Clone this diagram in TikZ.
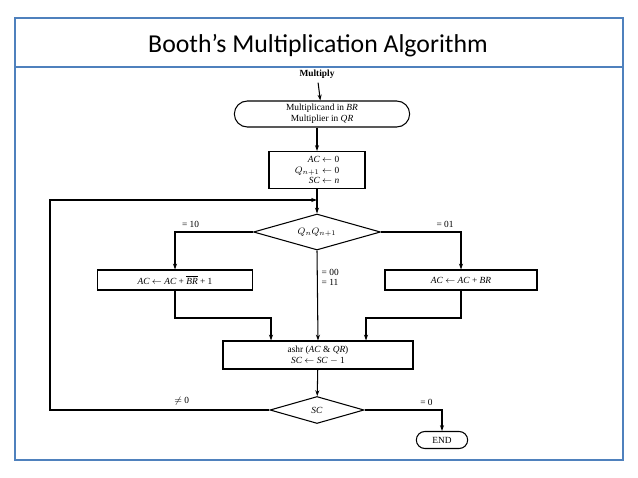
\documentclass[tikz,border=0pt]{standalone}
\usepackage{fontspec}
\setmainfont{Liberation Serif}
\newfontfamily\titlefont{Carlito}
\usetikzlibrary{shapes.geometric,shapes.misc,arrows.meta}
\definecolor{slideblue}{RGB}{79,129,189}
\begin{document}
\begin{tikzpicture}[x=0.03cm,y=-0.03cm,>={Stealth[length=5pt,width=3.5pt]},line width=0.9pt,
  font=\fontsize{8}{9}\selectfont]
\tikzset{
  box/.style={draw,rectangle,inner sep=2pt},
  term/.style={draw,rounded rectangle,inner sep=2pt},
  test/.style={draw,diamond,aspect=3.5,inner sep=1pt}
}
\useasboundingbox (0,0) rectangle (638,478);
\draw[slideblue,line width=1.2pt] (15,18) rectangle (623,460);
\draw[slideblue,line width=1pt] (15,67) -- (623,67);
\node[font=\titlefont\fontsize{22}{26}\selectfont] (title) at (318,46) {Booth’s Multiplication Algorithm};
\node (mul) at (317,74) {\textbf{Multiply}};
\node[term,minimum width=180*0.03cm,minimum height=26*0.03cm,align=center] (start) at (322,114)
  {Multiplicand in \textit{BR}\\Multiplier in \textit{QR}};
\node[box,minimum width=96*0.03cm,minimum height=37*0.03cm,align=right] (init) at (317,170)
  {\textit{AC} $\leftarrow$ 0\\$Q_{n+1}\leftarrow$ 0\\\textit{SC} $\leftarrow$ \textit{n}};
\node[test,minimum width=127*0.03cm,minimum height=36*0.03cm] (q) at (317,232) {$Q_nQ_{n+1}$};
\node[box,minimum width=155*0.03cm,minimum height=20*0.03cm] (sub) at (175,280)
  {\textit{AC} $\leftarrow$ \textit{AC} + $\overline{\mathit{BR}}$ + 1};
\node[box,minimum width=152*0.03cm,minimum height=20*0.03cm] (add) at (461,280)
  {\textit{AC} $\leftarrow$ \textit{AC} + \textit{BR}};
\node[box,minimum width=190*0.03cm,minimum height=28*0.03cm,align=center] (ashr) at (318,355)
  {ashr (\textit{AC} \& \textit{QR})\\\textit{SC} $\leftarrow$ \textit{SC} $-$ 1};
\node[test,minimum width=94*0.03cm,minimum height=27*0.03cm] (sc) at (317,410) {\textit{SC}};
\node[term,minimum width=56*0.03cm,minimum height=17*0.03cm] (end) at (442,440) {END};
\coordinate (join) at (317,200);
% connectors
\draw[->] (mul) -- (start);
\draw[->] (start.south -| init.north) -- (init);
\draw[->] (init) -- (q);
\draw[->] (q.west) -| node[pos=0.4,above] {= 10} (sub.north);
\draw[->] (q.east) -| node[pos=0.4,above] {= 01} (add.north);
\draw[->] (q.south) -- node[pos=0.3,right,align=left] {= 00\\= 11} (ashr.north);
\draw[->] (sub.south) |- (271,318) -- (ashr.north -| 271,0);
\draw[->] (add.south) |- (366,318) -- (ashr.north -| 366,0);
\draw[->] (ashr) -- (sc);
\draw[->] (sc.west) -- node[pos=0.4,above] {$\neq$ 0} (50,410) -- (50,200) -- (join);
\draw[->] (sc.east) -| node[pos=0.4,above] {= 0} (end.north);
\end{tikzpicture}
\end{document}
